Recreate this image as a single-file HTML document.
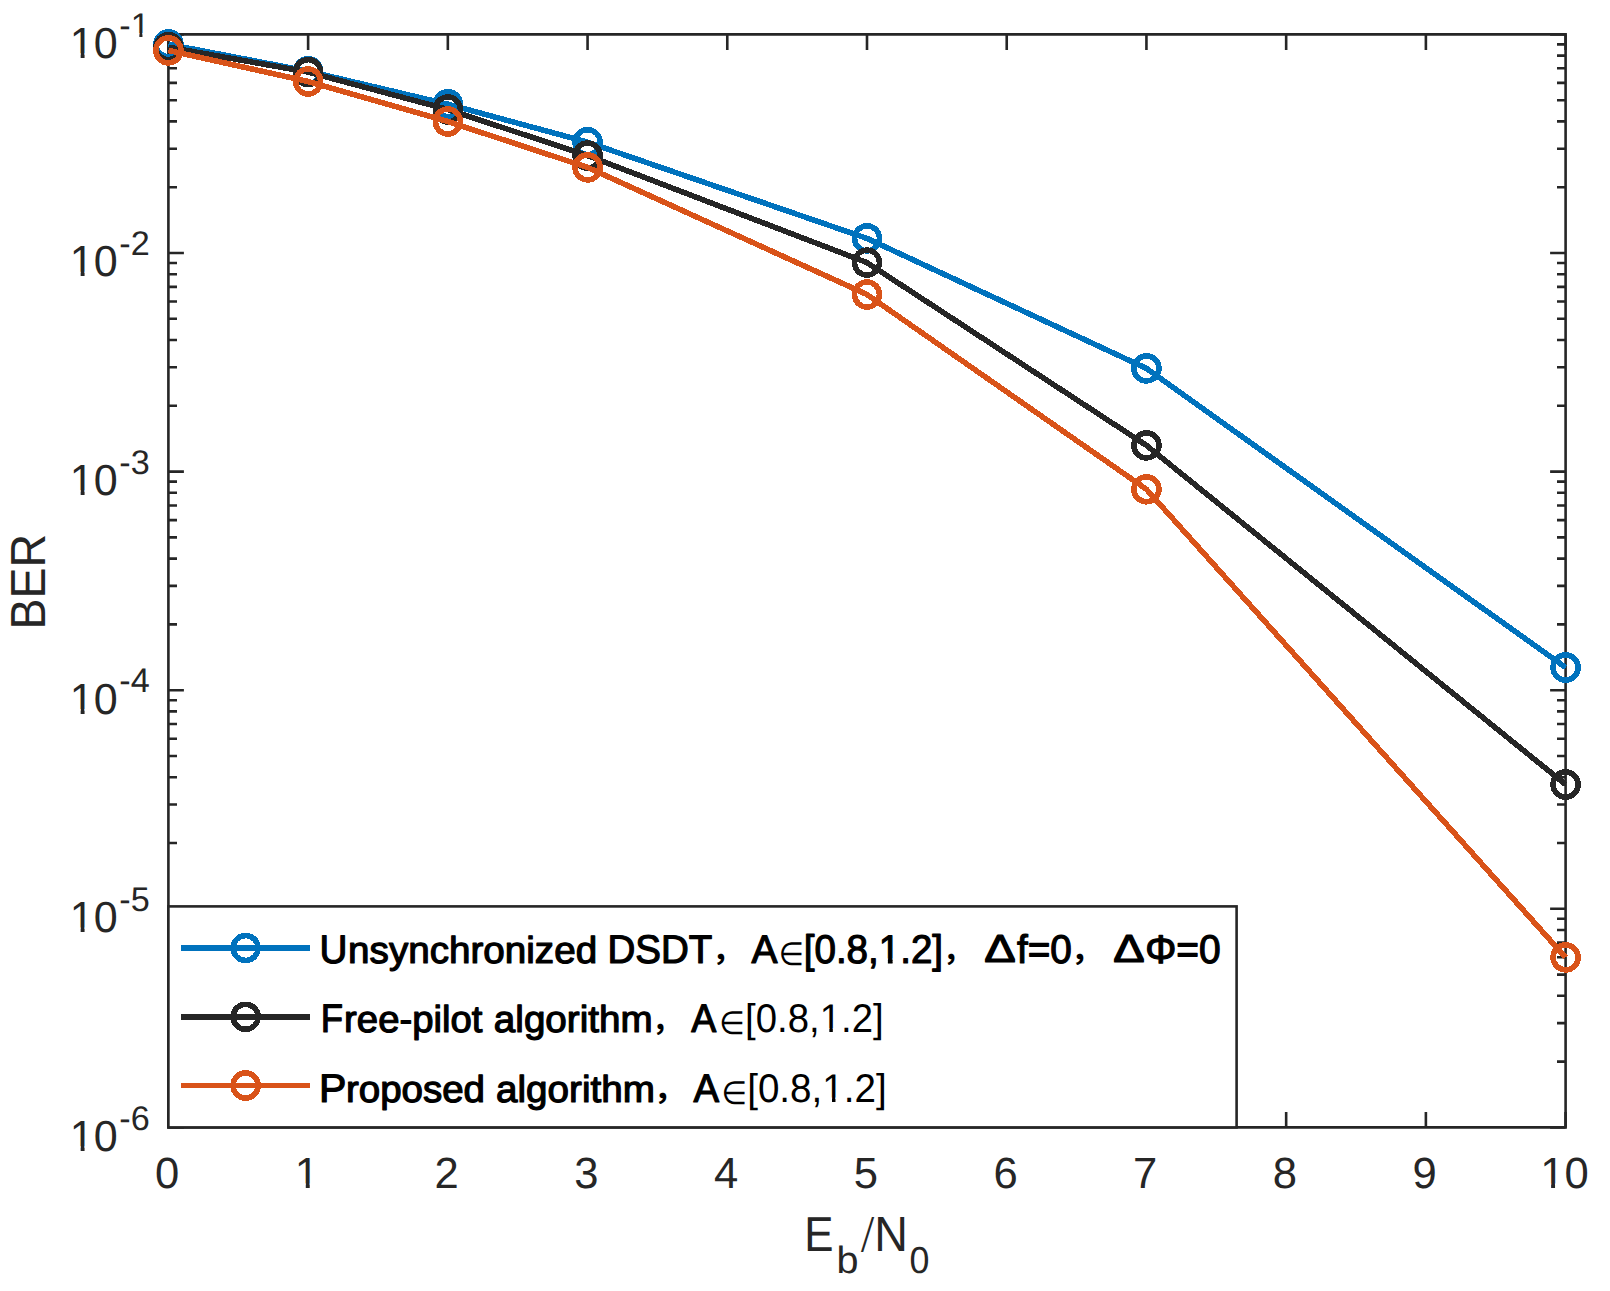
<!DOCTYPE html>
<html><head><meta charset="utf-8"><title>BER vs Eb/N0</title>
<style>html,body{margin:0;padding:0;background:#fff;overflow:hidden}svg{display:block}
text{font-family:'Liberation Sans',sans-serif;text-rendering:geometricPrecision}</style>
</head><body>
<svg width="1610" height="1291" viewBox="0 0 1610 1291">
<defs><clipPath id="k1" clipPathUnits="userSpaceOnUse"><path clip-rule="evenodd" d="M-4000,-4000H8000V8000H-4000ZM296.10,1183.42H305.76V1190.62H296.10ZM309.71,1183.42H319.21V1190.62H309.71Z"/></clipPath><clipPath id="k2" clipPathUnits="userSpaceOnUse"><path clip-rule="evenodd" d="M-4000,-4000H8000V8000H-4000ZM1541.46,1183.42H1551.12V1190.62H1541.46ZM1555.06,1183.42H1564.57V1190.62H1555.06Z"/></clipPath><clipPath id="k3" clipPathUnits="userSpaceOnUse"><path clip-rule="evenodd" d="M-4000,-4000H8000V8000H-4000ZM71.10,53.14H80.64V60.31H71.10ZM84.54,53.14H93.93V60.31H84.54ZM131.78,33.01H139.35V38.65H131.78ZM142.45,33.01H149.91V38.65H142.45Z"/></clipPath><clipPath id="k4" clipPathUnits="userSpaceOnUse"><path clip-rule="evenodd" d="M-4000,-4000H8000V8000H-4000ZM71.10,271.74H80.64V278.91H71.10ZM84.54,271.74H93.93V278.91H84.54Z"/></clipPath><clipPath id="k5" clipPathUnits="userSpaceOnUse"><path clip-rule="evenodd" d="M-4000,-4000H8000V8000H-4000ZM71.10,490.34H80.64V497.51H71.10ZM84.54,490.34H93.93V497.51H84.54Z"/></clipPath><clipPath id="k6" clipPathUnits="userSpaceOnUse"><path clip-rule="evenodd" d="M-4000,-4000H8000V8000H-4000ZM71.10,708.94H80.64V716.11H71.10ZM84.54,708.94H93.93V716.11H84.54Z"/></clipPath><clipPath id="k7" clipPathUnits="userSpaceOnUse"><path clip-rule="evenodd" d="M-4000,-4000H8000V8000H-4000ZM71.10,927.54H80.64V934.71H71.10ZM84.54,927.54H93.93V934.71H84.54Z"/></clipPath><clipPath id="k8" clipPathUnits="userSpaceOnUse"><path clip-rule="evenodd" d="M-4000,-4000H8000V8000H-4000ZM71.10,1146.14H80.64V1153.31H71.10ZM84.54,1146.14H93.93V1153.31H84.54Z"/></clipPath><clipPath id="k9" clipPathUnits="userSpaceOnUse"><path clip-rule="evenodd" d="M-4000,-4000H8000V8000H-4000ZM879.37,958.50H887.90V965.70H879.37ZM892.55,958.50H900.95V965.70H892.55Z"/></clipPath><clipPath id="k10" clipPathUnits="userSpaceOnUse"><path clip-rule="evenodd" d="M-4000,-4000H8000V8000H-4000ZM820.86,1028.20H829.35V1034.80H820.86ZM832.82,1028.20H841.17V1034.80H832.82Z"/></clipPath><clipPath id="k11" clipPathUnits="userSpaceOnUse"><path clip-rule="evenodd" d="M-4000,-4000H8000V8000H-4000ZM823.45,1097.50H832.00V1104.10H823.45ZM835.49,1097.50H843.90V1104.10H835.49Z"/></clipPath></defs>
<rect x="0" y="0" width="1610" height="1291" fill="#fff"/>
<path d="M168.4,34.4H1565.6V1127.4H168.4Z" fill="none" stroke="#262626" stroke-width="2.6"/>
<path d="M168.40,34.4v15.5M168.40,1127.4v-15.5M308.12,34.4v15.5M308.12,1127.4v-15.5M447.84,34.4v15.5M447.84,1127.4v-15.5M587.56,34.4v15.5M587.56,1127.4v-15.5M727.28,34.4v15.5M727.28,1127.4v-15.5M867.00,34.4v15.5M867.00,1127.4v-15.5M1006.72,34.4v15.5M1006.72,1127.4v-15.5M1146.44,34.4v15.5M1146.44,1127.4v-15.5M1286.16,34.4v15.5M1286.16,1127.4v-15.5M1425.88,34.4v15.5M1425.88,1127.4v-15.5M1565.60,34.4v15.5M1565.60,1127.4v-15.5M168.4,34.40h15.5M1565.6,34.40h-15.5M168.4,187.19h8.6M1565.6,187.19h-8.6M168.4,148.70h8.6M1565.6,148.70h-8.6M168.4,121.39h8.6M1565.6,121.39h-8.6M168.4,100.21h8.6M1565.6,100.21h-8.6M168.4,82.90h8.6M1565.6,82.90h-8.6M168.4,68.26h8.6M1565.6,68.26h-8.6M168.4,55.58h8.6M1565.6,55.58h-8.6M168.4,44.40h8.6M1565.6,44.40h-8.6M168.4,253.00h15.5M1565.6,253.00h-15.5M168.4,405.79h8.6M1565.6,405.79h-8.6M168.4,367.30h8.6M1565.6,367.30h-8.6M168.4,339.99h8.6M1565.6,339.99h-8.6M168.4,318.81h8.6M1565.6,318.81h-8.6M168.4,301.50h8.6M1565.6,301.50h-8.6M168.4,286.86h8.6M1565.6,286.86h-8.6M168.4,274.18h8.6M1565.6,274.18h-8.6M168.4,263.00h8.6M1565.6,263.00h-8.6M168.4,471.60h15.5M1565.6,471.60h-15.5M168.4,624.39h8.6M1565.6,624.39h-8.6M168.4,585.90h8.6M1565.6,585.90h-8.6M168.4,558.59h8.6M1565.6,558.59h-8.6M168.4,537.41h8.6M1565.6,537.41h-8.6M168.4,520.10h8.6M1565.6,520.10h-8.6M168.4,505.46h8.6M1565.6,505.46h-8.6M168.4,492.78h8.6M1565.6,492.78h-8.6M168.4,481.60h8.6M1565.6,481.60h-8.6M168.4,690.20h15.5M1565.6,690.20h-15.5M168.4,842.99h8.6M1565.6,842.99h-8.6M168.4,804.50h8.6M1565.6,804.50h-8.6M168.4,777.19h8.6M1565.6,777.19h-8.6M168.4,756.01h8.6M1565.6,756.01h-8.6M168.4,738.70h8.6M1565.6,738.70h-8.6M168.4,724.06h8.6M1565.6,724.06h-8.6M168.4,711.38h8.6M1565.6,711.38h-8.6M168.4,700.20h8.6M1565.6,700.20h-8.6M168.4,908.80h15.5M1565.6,908.80h-15.5M168.4,1061.59h8.6M1565.6,1061.59h-8.6M168.4,1023.10h8.6M1565.6,1023.10h-8.6M168.4,995.79h8.6M1565.6,995.79h-8.6M168.4,974.61h8.6M1565.6,974.61h-8.6M168.4,957.30h8.6M1565.6,957.30h-8.6M168.4,942.66h8.6M1565.6,942.66h-8.6M168.4,929.98h8.6M1565.6,929.98h-8.6M168.4,918.80h8.6M1565.6,918.80h-8.6M168.4,1127.40h15.5M1565.6,1127.40h-15.5" fill="none" stroke="#262626" stroke-width="2.6"/>
<g shape-rendering="crispEdges"><polyline points="168.40,44.3 308.12,71.2 447.84,104.2 587.56,142.2 867.00,238.4 1146.44,368.4 1565.60,667.5" fill="none" stroke="#0072BD" stroke-width="5.6" stroke-linejoin="round"/><circle cx="168.40" cy="44.3" r="12.5" fill="none" stroke="#0072BD" stroke-width="5.6"/><circle cx="308.12" cy="71.2" r="12.5" fill="none" stroke="#0072BD" stroke-width="5.6"/><circle cx="447.84" cy="104.2" r="12.5" fill="none" stroke="#0072BD" stroke-width="5.6"/><circle cx="587.56" cy="142.2" r="12.5" fill="none" stroke="#0072BD" stroke-width="5.6"/><circle cx="867.00" cy="238.4" r="12.5" fill="none" stroke="#0072BD" stroke-width="5.6"/><circle cx="1146.44" cy="368.4" r="12.5" fill="none" stroke="#0072BD" stroke-width="5.6"/><circle cx="1565.60" cy="667.5" r="12.5" fill="none" stroke="#0072BD" stroke-width="5.6"/></g>
<g shape-rendering="crispEdges"><polyline points="168.40,47.2 308.12,72.1 447.84,109.5 587.56,155.6 867.00,262.6 1146.44,445.4 1565.60,784.5" fill="none" stroke="#262626" stroke-width="5.6" stroke-linejoin="round"/><circle cx="168.40" cy="47.2" r="12.5" fill="none" stroke="#262626" stroke-width="5.6"/><circle cx="308.12" cy="72.1" r="12.5" fill="none" stroke="#262626" stroke-width="5.6"/><circle cx="447.84" cy="109.5" r="12.5" fill="none" stroke="#262626" stroke-width="5.6"/><circle cx="587.56" cy="155.6" r="12.5" fill="none" stroke="#262626" stroke-width="5.6"/><circle cx="867.00" cy="262.6" r="12.5" fill="none" stroke="#262626" stroke-width="5.6"/><circle cx="1146.44" cy="445.4" r="12.5" fill="none" stroke="#262626" stroke-width="5.6"/><circle cx="1565.60" cy="784.5" r="12.5" fill="none" stroke="#262626" stroke-width="5.6"/></g>
<g shape-rendering="crispEdges"><polyline points="168.40,50.4 308.12,81.5 447.84,121.5 587.56,167.4 867.00,294.5 1146.44,489.3 1565.60,957.4" fill="none" stroke="#D95319" stroke-width="5.6" stroke-linejoin="round"/><circle cx="168.40" cy="50.4" r="12.5" fill="none" stroke="#D95319" stroke-width="5.6"/><circle cx="308.12" cy="81.5" r="12.5" fill="none" stroke="#D95319" stroke-width="5.6"/><circle cx="447.84" cy="121.5" r="12.5" fill="none" stroke="#D95319" stroke-width="5.6"/><circle cx="587.56" cy="167.4" r="12.5" fill="none" stroke="#D95319" stroke-width="5.6"/><circle cx="867.00" cy="294.5" r="12.5" fill="none" stroke="#D95319" stroke-width="5.6"/><circle cx="1146.44" cy="489.3" r="12.5" fill="none" stroke="#D95319" stroke-width="5.6"/><circle cx="1565.60" cy="957.4" r="12.5" fill="none" stroke="#D95319" stroke-width="5.6"/></g>
<text x="155.07" y="1188" font-size="43.6" fill="#262626">0</text>
<text x="294.79" y="1188" font-size="43.6" fill="#262626" clip-path="url(#k1)">1</text>
<text x="434.51" y="1188" font-size="43.6" fill="#262626">2</text>
<text x="574.23" y="1188" font-size="43.6" fill="#262626">3</text>
<text x="713.95" y="1188" font-size="43.6" fill="#262626">4</text>
<text x="853.67" y="1188" font-size="43.6" fill="#262626">5</text>
<text x="993.39" y="1188" font-size="43.6" fill="#262626">6</text>
<text x="1133.11" y="1188" font-size="43.6" fill="#262626">7</text>
<text x="1272.83" y="1188" font-size="43.6" fill="#262626">8</text>
<text x="1412.55" y="1188" font-size="43.6" fill="#262626">9</text>
<text x="1540.15" y="1188" font-size="43.6" fill="#262626" clip-path="url(#k2)">10</text>
<text font-size="43.45" fill="#262626" clip-path="url(#k3)"><tspan x="69.81" y="57.70" textLength="47.91" lengthAdjust="spacingAndGlyphs">10</tspan><tspan x="119.35" y="36.60" font-size="34.2">-1</tspan></text>
<text font-size="43.45" fill="#262626" clip-path="url(#k4)"><tspan x="69.81" y="276.30" textLength="47.91" lengthAdjust="spacingAndGlyphs">10</tspan><tspan x="119.35" y="255.20" font-size="34.2">-2</tspan></text>
<text font-size="43.45" fill="#262626" clip-path="url(#k5)"><tspan x="69.81" y="494.90" textLength="47.91" lengthAdjust="spacingAndGlyphs">10</tspan><tspan x="119.35" y="473.80" font-size="34.2">-3</tspan></text>
<text font-size="43.45" fill="#262626" clip-path="url(#k6)"><tspan x="69.81" y="713.50" textLength="47.91" lengthAdjust="spacingAndGlyphs">10</tspan><tspan x="119.35" y="692.40" font-size="34.2">-4</tspan></text>
<text font-size="43.45" fill="#262626" clip-path="url(#k7)"><tspan x="69.81" y="932.10" textLength="47.91" lengthAdjust="spacingAndGlyphs">10</tspan><tspan x="119.35" y="911.00" font-size="34.2">-5</tspan></text>
<text font-size="43.45" fill="#262626" clip-path="url(#k8)"><tspan x="69.81" y="1150.70" textLength="47.91" lengthAdjust="spacingAndGlyphs">10</tspan><tspan x="119.35" y="1129.60" font-size="34.2">-6</tspan></text>
<text transform="translate(45,629.54) rotate(-90) scale(0.9446,1)" font-size="49.27" fill="#262626">BER</text>
<text fill="#262626"><tspan x="804.28" y="1250.90" font-size="49.16" textLength="29.26" lengthAdjust="spacingAndGlyphs">E</tspan><tspan x="836.43" y="1273.42" font-size="37.96" textLength="22.00" lengthAdjust="spacingAndGlyphs">b</tspan><tspan x="860.15" y="1248.06" font-size="42.55" font-family="'DejaVu Sans',sans-serif" font-weight="200" textLength="14.58" lengthAdjust="spacingAndGlyphs">/</tspan><tspan x="874.15" y="1250.90" font-size="49.31" textLength="33.68" lengthAdjust="spacingAndGlyphs">N</tspan><tspan x="909.57" y="1273.42" font-size="37.60" textLength="19.92" lengthAdjust="spacingAndGlyphs">0</tspan></text>
<rect x="168.4" y="906.4" width="1068.1999999999998" height="221.0000000000001" fill="#fff" stroke="#262626" stroke-width="2.6"/>
<g shape-rendering="crispEdges"><line x1="181" y1="948" x2="310" y2="948" stroke="#0072BD" stroke-width="5.6"/><circle cx="245.6" cy="948" r="12.5" fill="none" stroke="#0072BD" stroke-width="5.6"/><line x1="181" y1="1016.8" x2="310" y2="1016.8" stroke="#262626" stroke-width="5.6"/><circle cx="245.6" cy="1016.8" r="12.5" fill="none" stroke="#262626" stroke-width="5.6"/><line x1="181" y1="1085.5" x2="310" y2="1085.5" stroke="#D95319" stroke-width="5.6"/><circle cx="245.6" cy="1085.5" r="12.5" fill="none" stroke="#D95319" stroke-width="5.6"/></g>
<text font-size="40.0" fill="#000" clip-path="url(#k9)"><tspan x="319.48" y="962.70" font-size="40.00" stroke="#000" stroke-width="1.20" stroke-linejoin="round" textLength="27.92" lengthAdjust="spacingAndGlyphs">U</tspan><tspan x="348.11" y="962.70" font-size="37.60" stroke="#000" stroke-width="1.20" stroke-linejoin="round" textLength="249.01" lengthAdjust="spacingAndGlyphs">nsynchronized</tspan> <tspan x="607.40" y="962.70" font-size="40.00" stroke="#000" stroke-width="1.20" stroke-linejoin="round" textLength="104.88" lengthAdjust="spacingAndGlyphs">DSDT</tspan><tspan x="711.93" y="960.91" font-size="29.74" font-family="'Noto Sans CJK SC','Liberation Sans',sans-serif" font-weight="bold" textLength="31.21" lengthAdjust="spacingAndGlyphs">，</tspan><tspan x="751.49" y="962.70" font-size="40.00" stroke="#000" stroke-width="1.20" stroke-linejoin="round" textLength="26.01" lengthAdjust="spacingAndGlyphs">A</tspan><tspan x="778.65" y="964.68" font-size="32.22" font-family="'DejaVu Sans','Liberation Sans',sans-serif" textLength="25.14" lengthAdjust="spacingAndGlyphs">∈</tspan><tspan x="803.78" y="962.70" font-size="40.00" stroke="#000" stroke-width="1.20" stroke-linejoin="round" textLength="139.29" lengthAdjust="spacingAndGlyphs">[0.8,1.2]</tspan><tspan x="942.84" y="960.91" font-size="29.74" font-family="'Noto Sans CJK SC','Liberation Sans',sans-serif" font-weight="bold" textLength="29.89" lengthAdjust="spacingAndGlyphs">，</tspan><tspan x="984.31" y="962.30" font-size="38.98" stroke="#000" stroke-width="1.20" stroke-linejoin="round" textLength="31.50" lengthAdjust="spacingAndGlyphs">Δ</tspan><tspan x="1017.00" y="962.70" font-size="40.00" stroke="#000" stroke-width="1.20" stroke-linejoin="round" textLength="54.89" lengthAdjust="spacingAndGlyphs">f=0</tspan><tspan x="1070.79" y="960.91" font-size="29.74" font-family="'Noto Sans CJK SC','Liberation Sans',sans-serif" font-weight="bold" textLength="32.09" lengthAdjust="spacingAndGlyphs">，</tspan><tspan x="1113.21" y="962.40" font-size="39.27" stroke="#000" stroke-width="1.20" stroke-linejoin="round" textLength="31.41" lengthAdjust="spacingAndGlyphs">Δ</tspan><tspan x="1145.25" y="962.70" font-size="40.00" stroke="#000" stroke-width="1.20" stroke-linejoin="round" textLength="75.45" lengthAdjust="spacingAndGlyphs">Φ=0</tspan></text>
<text font-size="40.0" fill="#000" clip-path="url(#k10)"><tspan x="320.63" y="1032.40" font-size="40.00" stroke="#000" stroke-width="1.20" stroke-linejoin="round" textLength="22.31" lengthAdjust="spacingAndGlyphs">F</tspan><tspan x="344.13" y="1032.40" font-size="37.60" stroke="#000" stroke-width="1.20" stroke-linejoin="round" textLength="138.26" lengthAdjust="spacingAndGlyphs">ree-pilot</tspan> <tspan x="493.88" y="1032.40" font-size="37.60" stroke="#000" stroke-width="1.20" stroke-linejoin="round" textLength="158.73" lengthAdjust="spacingAndGlyphs">algorithm</tspan><tspan x="651.91" y="1030.51" font-size="29.74" font-family="'Noto Sans CJK SC','Liberation Sans',sans-serif" font-weight="bold" textLength="29.45" lengthAdjust="spacingAndGlyphs">，</tspan><tspan x="691.37" y="1032.40" font-size="40.00" stroke="#000" stroke-width="1.20" stroke-linejoin="round" textLength="25.04" lengthAdjust="spacingAndGlyphs">A</tspan><tspan x="719.21" y="1034.28" font-size="32.22" font-family="'DejaVu Sans','Liberation Sans',sans-serif" textLength="25.51" lengthAdjust="spacingAndGlyphs">∈</tspan><tspan x="745.12" y="1032.40" font-size="40.00" textLength="138.51" lengthAdjust="spacingAndGlyphs">[0.8,1.2]</tspan></text>
<text font-size="40.0" fill="#000" clip-path="url(#k11)"><tspan x="319.13" y="1101.70" font-size="40.00" stroke="#000" stroke-width="1.20" stroke-linejoin="round" textLength="27.39" lengthAdjust="spacingAndGlyphs">P</tspan><tspan x="345.92" y="1101.70" font-size="37.60" stroke="#000" stroke-width="1.20" stroke-linejoin="round" textLength="139.13" lengthAdjust="spacingAndGlyphs">roposed</tspan> <tspan x="496.08" y="1101.70" font-size="37.60" stroke="#000" stroke-width="1.20" stroke-linejoin="round" textLength="158.73" lengthAdjust="spacingAndGlyphs">algorithm</tspan><tspan x="653.61" y="1099.91" font-size="29.74" font-family="'Noto Sans CJK SC','Liberation Sans',sans-serif" font-weight="bold" textLength="32.53" lengthAdjust="spacingAndGlyphs">，</tspan><tspan x="693.48" y="1101.70" font-size="40.00" stroke="#000" stroke-width="1.20" stroke-linejoin="round" textLength="25.62" lengthAdjust="spacingAndGlyphs">A</tspan><tspan x="721.51" y="1103.68" font-size="32.22" font-family="'DejaVu Sans','Liberation Sans',sans-serif" textLength="25.51" lengthAdjust="spacingAndGlyphs">∈</tspan><tspan x="747.20" y="1101.70" font-size="40.00" textLength="139.45" lengthAdjust="spacingAndGlyphs">[0.8,1.2]</tspan></text>
</svg>
</body></html>
